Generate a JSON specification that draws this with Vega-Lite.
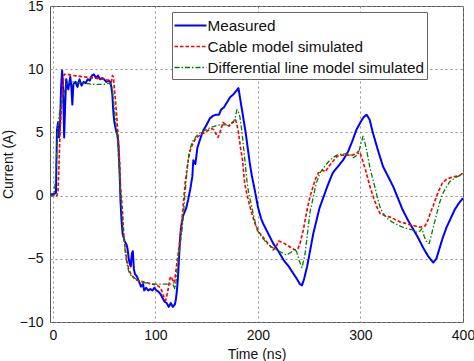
{
  "$schema": "https://vega.github.io/schema/vega-lite/v6.json",
  "width": 413,
  "height": 316,
  "autosize": {"type": "none"},
  "padding": {"left": 50, "top": 6, "right": 11, "bottom": 39},
  "background": "white",
  "config": {
    "view": {"stroke": "#555", "strokeWidth": 1},
    "font": "Liberation Sans",
    "axis": {
      "grid": true, "gridColor": "#888", "gridDash": [2, 3], "gridWidth": 1, "gridOpacity": 0.9,
      "domain": false, "ticks": false,
      "labelFont": "Liberation Sans", "labelFontSize": 14, "labelColor": "#111",
      "titleFont": "Liberation Sans", "titleFontSize": 14, "titleFontWeight": "normal", "titleColor": "#111"
    }
  },
  "data": {"values": [
    {"s":"Measured","t":-2.5,"i":0.1},{"s":"Measured","t":0,"i":0.1},{"s":"Measured","t":3,"i":0.2},{"s":"Measured","t":4,"i":5.2},{"s":"Measured","t":5,"i":5.8},{"s":"Measured","t":6,"i":4.6},{"s":"Measured","t":7,"i":5.6},{"s":"Measured","t":8,"i":8.6},{"s":"Measured","t":9,"i":9.9},{"s":"Measured","t":10,"i":8.6},{"s":"Measured","t":11,"i":4.6},{"s":"Measured","t":12,"i":7.2},{"s":"Measured","t":13,"i":9.2},{"s":"Measured","t":15,"i":8.4},{"s":"Measured","t":17,"i":9.4},{"s":"Measured","t":18,"i":8.6},{"s":"Measured","t":19,"i":7.2},{"s":"Measured","t":20,"i":8.8},{"s":"Measured","t":22,"i":9.0},{"s":"Measured","t":24,"i":8.6},{"s":"Measured","t":26,"i":9.2},{"s":"Measured","t":28,"i":8.7},{"s":"Measured","t":30,"i":9.0},{"s":"Measured","t":32,"i":8.9},{"s":"Measured","t":34,"i":9.2},{"s":"Measured","t":36,"i":9.1},{"s":"Measured","t":38,"i":9.5},{"s":"Measured","t":40,"i":9.6},{"s":"Measured","t":42,"i":9.3},{"s":"Measured","t":44,"i":9.5},{"s":"Measured","t":46,"i":9.2},{"s":"Measured","t":48,"i":9.3},{"s":"Measured","t":50,"i":9.2},{"s":"Measured","t":52,"i":9.0},{"s":"Measured","t":54,"i":9.1},{"s":"Measured","t":56,"i":9.0},{"s":"Measured","t":57,"i":8.6},{"s":"Measured","t":58,"i":8.0},{"s":"Measured","t":59,"i":6.6},{"s":"Measured","t":60,"i":5.8},{"s":"Measured","t":61,"i":5.4},{"s":"Measured","t":62,"i":5.0},{"s":"Measured","t":63,"i":4.8},{"s":"Measured","t":64,"i":4.0},{"s":"Measured","t":65,"i":2.0},{"s":"Measured","t":66,"i":-0.5},{"s":"Measured","t":67,"i":-2.0},{"s":"Measured","t":68,"i":-3.0},{"s":"Measured","t":70,"i":-3.6},{"s":"Measured","t":72,"i":-3.9},{"s":"Measured","t":73,"i":-4.3},{"s":"Measured","t":74,"i":-5.0},{"s":"Measured","t":75,"i":-5.4},{"s":"Measured","t":76,"i":-5.6},{"s":"Measured","t":77,"i":-4.6},{"s":"Measured","t":78,"i":-4.4},{"s":"Measured","t":79,"i":-5.8},{"s":"Measured","t":80,"i":-6.2},{"s":"Measured","t":82,"i":-6.4},{"s":"Measured","t":84,"i":-6.8},{"s":"Measured","t":86,"i":-7.2},{"s":"Measured","t":88,"i":-7.0},{"s":"Measured","t":89,"i":-7.5},{"s":"Measured","t":91,"i":-7.3},{"s":"Measured","t":93,"i":-7.5},{"s":"Measured","t":95,"i":-7.4},{"s":"Measured","t":97,"i":-7.5},{"s":"Measured","t":99,"i":-7.3},{"s":"Measured","t":101,"i":-7.5},{"s":"Measured","t":103,"i":-7.6},{"s":"Measured","t":105,"i":-7.8},{"s":"Measured","t":107,"i":-8.1},{"s":"Measured","t":109,"i":-8.4},{"s":"Measured","t":111,"i":-8.5},{"s":"Measured","t":113,"i":-8.8},{"s":"Measured","t":115,"i":-8.5},{"s":"Measured","t":117,"i":-8.8},{"s":"Measured","t":119,"i":-8.6},{"s":"Measured","t":120,"i":-8.2},{"s":"Measured","t":121,"i":-7.5},{"s":"Measured","t":122,"i":-6.5},{"s":"Measured","t":123,"i":-5.0},{"s":"Measured","t":124,"i":-3.5},{"s":"Measured","t":125,"i":-2.5},{"s":"Measured","t":127,"i":-1.6},{"s":"Measured","t":130,"i":-1.0},{"s":"Measured","t":132,"i":-0.3},{"s":"Measured","t":134,"i":0.5},{"s":"Measured","t":136,"i":1.5},{"s":"Measured","t":137,"i":2.8},{"s":"Measured","t":139,"i":2.5},{"s":"Measured","t":141,"i":3.8},{"s":"Measured","t":143,"i":4.3},{"s":"Measured","t":145,"i":4.8},{"s":"Measured","t":147,"i":5.2},{"s":"Measured","t":150,"i":5.6},{"s":"Measured","t":153,"i":6.1},{"s":"Measured","t":156,"i":6.3},{"s":"Measured","t":159,"i":6.4},{"s":"Measured","t":162,"i":6.4},{"s":"Measured","t":164,"i":6.8},{"s":"Measured","t":167,"i":7.0},{"s":"Measured","t":170,"i":7.4},{"s":"Measured","t":173,"i":7.8},{"s":"Measured","t":176,"i":8.0},{"s":"Measured","t":178,"i":8.2},{"s":"Measured","t":180,"i":8.4},{"s":"Measured","t":181,"i":8.5},{"s":"Measured","t":182,"i":8.0},{"s":"Measured","t":184,"i":7.0},{"s":"Measured","t":186,"i":6.0},{"s":"Measured","t":188,"i":5.0},{"s":"Measured","t":190,"i":3.8},{"s":"Measured","t":192,"i":2.6},{"s":"Measured","t":194,"i":1.6},{"s":"Measured","t":197,"i":0.4},{"s":"Measured","t":200,"i":-0.9},{"s":"Measured","t":203,"i":-1.8},{"s":"Measured","t":205,"i":-2.2},{"s":"Measured","t":210,"i":-3.0},{"s":"Measured","t":215,"i":-3.8},{"s":"Measured","t":220,"i":-4.4},{"s":"Measured","t":225,"i":-5.1},{"s":"Measured","t":230,"i":-5.6},{"s":"Measured","t":234,"i":-6.1},{"s":"Measured","t":238,"i":-6.6},{"s":"Measured","t":241,"i":-7.0},{"s":"Measured","t":243,"i":-7.1},{"s":"Measured","t":245,"i":-6.6},{"s":"Measured","t":248,"i":-5.6},{"s":"Measured","t":251,"i":-4.3},{"s":"Measured","t":254,"i":-3.0},{"s":"Measured","t":257,"i":-2.0},{"s":"Measured","t":260,"i":-1.0},{"s":"Measured","t":264,"i":-0.1},{"s":"Measured","t":268,"i":0.8},{"s":"Measured","t":273,"i":1.8},{"s":"Measured","t":278,"i":2.3},{"s":"Measured","t":283,"i":2.8},{"s":"Measured","t":288,"i":3.5},{"s":"Measured","t":292,"i":4.3},{"s":"Measured","t":296,"i":5.2},{"s":"Measured","t":300,"i":5.8},{"s":"Measured","t":303,"i":6.2},{"s":"Measured","t":306,"i":6.4},{"s":"Measured","t":309,"i":6.0},{"s":"Measured","t":312,"i":5.0},{"s":"Measured","t":317,"i":3.6},{"s":"Measured","t":322,"i":2.3},{"s":"Measured","t":327,"i":1.5},{"s":"Measured","t":332,"i":0.7},{"s":"Measured","t":337,"i":-0.3},{"s":"Measured","t":341,"i":-1.1},{"s":"Measured","t":346,"i":-1.9},{"s":"Measured","t":351,"i":-2.6},{"s":"Measured","t":356,"i":-3.3},{"s":"Measured","t":361,"i":-4.1},{"s":"Measured","t":366,"i":-4.8},{"s":"Measured","t":371,"i":-5.3},{"s":"Measured","t":374,"i":-5.0},{"s":"Measured","t":377,"i":-4.2},{"s":"Measured","t":380,"i":-3.4},{"s":"Measured","t":384,"i":-2.5},{"s":"Measured","t":388,"i":-1.8},{"s":"Measured","t":392,"i":-1.1},{"s":"Measured","t":396,"i":-0.6},{"s":"Measured","t":400,"i":-0.2},

    {"s":"Cable model simulated","t":-2.5,"i":0},{"s":"Cable model simulated","t":4,"i":0},{"s":"Cable model simulated","t":5,"i":0.3},{"s":"Cable model simulated","t":6,"i":2.5},{"s":"Cable model simulated","t":7,"i":5.0},{"s":"Cable model simulated","t":8,"i":6.5},{"s":"Cable model simulated","t":9,"i":7.6},{"s":"Cable model simulated","t":10,"i":9.0},{"s":"Cable model simulated","t":11,"i":9.6},{"s":"Cable model simulated","t":14,"i":9.6},{"s":"Cable model simulated","t":20,"i":9.5},{"s":"Cable model simulated","t":30,"i":9.4},{"s":"Cable model simulated","t":40,"i":9.3},{"s":"Cable model simulated","t":50,"i":9.2},{"s":"Cable model simulated","t":55,"i":9.1},{"s":"Cable model simulated","t":57,"i":9.0},{"s":"Cable model simulated","t":58,"i":9.5},{"s":"Cable model simulated","t":59,"i":9.4},{"s":"Cable model simulated","t":60,"i":8.4},{"s":"Cable model simulated","t":61,"i":7.6},{"s":"Cable model simulated","t":63,"i":5.5},{"s":"Cable model simulated","t":65,"i":2.8},{"s":"Cable model simulated","t":66,"i":0.7},{"s":"Cable model simulated","t":67,"i":-0.3},{"s":"Cable model simulated","t":68,"i":-1.4},{"s":"Cable model simulated","t":69,"i":-3.0},{"s":"Cable model simulated","t":70,"i":-3.8},{"s":"Cable model simulated","t":72,"i":-5.1},{"s":"Cable model simulated","t":74,"i":-5.8},{"s":"Cable model simulated","t":76,"i":-6.2},{"s":"Cable model simulated","t":79,"i":-6.5},{"s":"Cable model simulated","t":82,"i":-6.7},{"s":"Cable model simulated","t":87,"i":-6.8},{"s":"Cable model simulated","t":92,"i":-6.9},{"s":"Cable model simulated","t":97,"i":-7.0},{"s":"Cable model simulated","t":102,"i":-7.1},{"s":"Cable model simulated","t":105,"i":-7.3},{"s":"Cable model simulated","t":107,"i":-7.7},{"s":"Cable model simulated","t":109,"i":-8.2},{"s":"Cable model simulated","t":110,"i":-8.3},{"s":"Cable model simulated","t":112,"i":-7.6},{"s":"Cable model simulated","t":114,"i":-6.6},{"s":"Cable model simulated","t":115,"i":-6.4},{"s":"Cable model simulated","t":117,"i":-6.7},{"s":"Cable model simulated","t":118,"i":-6.9},{"s":"Cable model simulated","t":119,"i":-6.6},{"s":"Cable model simulated","t":121,"i":-5.3},{"s":"Cable model simulated","t":124,"i":-3.5},{"s":"Cable model simulated","t":126,"i":-1.8},{"s":"Cable model simulated","t":127,"i":-0.9},{"s":"Cable model simulated","t":129,"i":1.0},{"s":"Cable model simulated","t":130,"i":1.6},{"s":"Cable model simulated","t":132,"i":2.8},{"s":"Cable model simulated","t":134,"i":3.6},{"s":"Cable model simulated","t":137,"i":4.2},{"s":"Cable model simulated","t":140,"i":4.6},{"s":"Cable model simulated","t":144,"i":4.8},{"s":"Cable model simulated","t":150,"i":5.1},{"s":"Cable model simulated","t":155,"i":5.3},{"s":"Cable model simulated","t":157,"i":5.2},{"s":"Cable model simulated","t":159,"i":4.9},{"s":"Cable model simulated","t":161,"i":4.6},{"s":"Cable model simulated","t":163,"i":5.0},{"s":"Cable model simulated","t":166,"i":5.8},{"s":"Cable model simulated","t":169,"i":5.6},{"s":"Cable model simulated","t":172,"i":5.5},{"s":"Cable model simulated","t":175,"i":5.8},{"s":"Cable model simulated","t":178,"i":6.0},{"s":"Cable model simulated","t":179,"i":5.8},{"s":"Cable model simulated","t":181,"i":5.0},{"s":"Cable model simulated","t":183,"i":3.8},{"s":"Cable model simulated","t":185,"i":2.8},{"s":"Cable model simulated","t":187,"i":1.0},{"s":"Cable model simulated","t":189,"i":0.2},{"s":"Cable model simulated","t":191,"i":-0.5},{"s":"Cable model simulated","t":194,"i":-1.4},{"s":"Cable model simulated","t":197,"i":-2.2},{"s":"Cable model simulated","t":201,"i":-2.9},{"s":"Cable model simulated","t":205,"i":-3.3},{"s":"Cable model simulated","t":210,"i":-3.8},{"s":"Cable model simulated","t":215,"i":-4.3},{"s":"Cable model simulated","t":218,"i":-4.0},{"s":"Cable model simulated","t":220,"i":-3.6},{"s":"Cable model simulated","t":224,"i":-3.7},{"s":"Cable model simulated","t":228,"i":-3.9},{"s":"Cable model simulated","t":232,"i":-4.1},{"s":"Cable model simulated","t":236,"i":-4.3},{"s":"Cable model simulated","t":239,"i":-4.2},{"s":"Cable model simulated","t":241,"i":-3.8},{"s":"Cable model simulated","t":244,"i":-2.8},{"s":"Cable model simulated","t":248,"i":-1.1},{"s":"Cable model simulated","t":251,"i":0.0},{"s":"Cable model simulated","t":253,"i":0.5},{"s":"Cable model simulated","t":256,"i":1.3},{"s":"Cable model simulated","t":259,"i":1.8},{"s":"Cable model simulated","t":263,"i":2.0},{"s":"Cable model simulated","t":266,"i":1.9},{"s":"Cable model simulated","t":269,"i":2.3},{"s":"Cable model simulated","t":273,"i":2.7},{"s":"Cable model simulated","t":277,"i":3.1},{"s":"Cable model simulated","t":282,"i":3.2},{"s":"Cable model simulated","t":287,"i":3.2},{"s":"Cable model simulated","t":292,"i":3.2},{"s":"Cable model simulated","t":296,"i":3.3},{"s":"Cable model simulated","t":298,"i":3.5},{"s":"Cable model simulated","t":300,"i":3.3},{"s":"Cable model simulated","t":302,"i":2.8},{"s":"Cable model simulated","t":305,"i":2.0},{"s":"Cable model simulated","t":308,"i":1.1},{"s":"Cable model simulated","t":310,"i":0.5},{"s":"Cable model simulated","t":313,"i":-0.2},{"s":"Cable model simulated","t":316,"i":-0.9},{"s":"Cable model simulated","t":319,"i":-1.4},{"s":"Cable model simulated","t":324,"i":-1.6},{"s":"Cable model simulated","t":329,"i":-1.7},{"s":"Cable model simulated","t":334,"i":-1.9},{"s":"Cable model simulated","t":339,"i":-2.1},{"s":"Cable model simulated","t":344,"i":-2.2},{"s":"Cable model simulated","t":348,"i":-2.3},{"s":"Cable model simulated","t":353,"i":-2.4},{"s":"Cable model simulated","t":358,"i":-2.5},{"s":"Cable model simulated","t":363,"i":-2.4},{"s":"Cable model simulated","t":366,"i":-1.9},{"s":"Cable model simulated","t":368,"i":-1.4},{"s":"Cable model simulated","t":371,"i":-0.8},{"s":"Cable model simulated","t":374,"i":-0.1},{"s":"Cable model simulated","t":377,"i":0.5},{"s":"Cable model simulated","t":380,"i":1.0},{"s":"Cable model simulated","t":384,"i":1.3},{"s":"Cable model simulated","t":387,"i":1.4},{"s":"Cable model simulated","t":392,"i":1.5},{"s":"Cable model simulated","t":397,"i":1.6},{"s":"Cable model simulated","t":400,"i":1.8},

    {"s":"Differential line model simulated","t":-2.5,"i":0},{"s":"Differential line model simulated","t":1,"i":0},{"s":"Differential line model simulated","t":2,"i":0.8},{"s":"Differential line model simulated","t":3,"i":2.0},{"s":"Differential line model simulated","t":4,"i":4.0},{"s":"Differential line model simulated","t":5,"i":5.5},{"s":"Differential line model simulated","t":6,"i":6.3},{"s":"Differential line model simulated","t":8,"i":7.2},{"s":"Differential line model simulated","t":10,"i":7.9},{"s":"Differential line model simulated","t":12,"i":8.5},{"s":"Differential line model simulated","t":14,"i":8.9},{"s":"Differential line model simulated","t":20,"i":9.0},{"s":"Differential line model simulated","t":30,"i":8.9},{"s":"Differential line model simulated","t":40,"i":8.8},{"s":"Differential line model simulated","t":50,"i":8.8},{"s":"Differential line model simulated","t":55,"i":8.9},{"s":"Differential line model simulated","t":57,"i":8.7},{"s":"Differential line model simulated","t":58,"i":8.4},{"s":"Differential line model simulated","t":59,"i":7.6},{"s":"Differential line model simulated","t":61,"i":6.0},{"s":"Differential line model simulated","t":63,"i":4.4},{"s":"Differential line model simulated","t":64.5,"i":2.3},{"s":"Differential line model simulated","t":66,"i":0.2},{"s":"Differential line model simulated","t":67,"i":-1.0},{"s":"Differential line model simulated","t":68,"i":-2.0},{"s":"Differential line model simulated","t":70,"i":-4.0},{"s":"Differential line model simulated","t":72,"i":-5.3},{"s":"Differential line model simulated","t":74,"i":-6.0},{"s":"Differential line model simulated","t":77,"i":-6.4},{"s":"Differential line model simulated","t":81,"i":-6.6},{"s":"Differential line model simulated","t":85,"i":-6.8},{"s":"Differential line model simulated","t":90,"i":-6.9},{"s":"Differential line model simulated","t":95,"i":-7.0},{"s":"Differential line model simulated","t":105,"i":-7.0},{"s":"Differential line model simulated","t":117,"i":-7.0},{"s":"Differential line model simulated","t":119,"i":-7.4},{"s":"Differential line model simulated","t":120,"i":-6.9},{"s":"Differential line model simulated","t":122,"i":-5.3},{"s":"Differential line model simulated","t":124,"i":-4.0},{"s":"Differential line model simulated","t":126,"i":-2.7},{"s":"Differential line model simulated","t":128,"i":-0.8},{"s":"Differential line model simulated","t":129.5,"i":0.7},{"s":"Differential line model simulated","t":131,"i":2.2},{"s":"Differential line model simulated","t":133,"i":3.4},{"s":"Differential line model simulated","t":135,"i":4.0},{"s":"Differential line model simulated","t":137,"i":4.4},{"s":"Differential line model simulated","t":140,"i":4.7},{"s":"Differential line model simulated","t":144,"i":5.0},{"s":"Differential line model simulated","t":149,"i":5.2},{"s":"Differential line model simulated","t":154,"i":5.4},{"s":"Differential line model simulated","t":158,"i":5.5},{"s":"Differential line model simulated","t":163,"i":5.6},{"s":"Differential line model simulated","t":173,"i":5.6},{"s":"Differential line model simulated","t":176,"i":5.8},{"s":"Differential line model simulated","t":178,"i":6.2},{"s":"Differential line model simulated","t":179.5,"i":6.8},{"s":"Differential line model simulated","t":181,"i":6.6},{"s":"Differential line model simulated","t":182.5,"i":6.2},{"s":"Differential line model simulated","t":184.5,"i":5.0},{"s":"Differential line model simulated","t":186,"i":3.8},{"s":"Differential line model simulated","t":187.5,"i":2.6},{"s":"Differential line model simulated","t":189.5,"i":1.0},{"s":"Differential line model simulated","t":191,"i":0.2},{"s":"Differential line model simulated","t":194.5,"i":-1.1},{"s":"Differential line model simulated","t":199,"i":-2.7},{"s":"Differential line model simulated","t":204,"i":-3.3},{"s":"Differential line model simulated","t":209,"i":-3.8},{"s":"Differential line model simulated","t":214,"i":-4.1},{"s":"Differential line model simulated","t":218.5,"i":-4.3},{"s":"Differential line model simulated","t":223,"i":-4.5},{"s":"Differential line model simulated","t":228,"i":-4.7},{"s":"Differential line model simulated","t":232,"i":-4.5},{"s":"Differential line model simulated","t":236,"i":-4.2},{"s":"Differential line model simulated","t":238,"i":-4.5},{"s":"Differential line model simulated","t":240,"i":-5.1},{"s":"Differential line model simulated","t":243,"i":-5.7},{"s":"Differential line model simulated","t":246,"i":-4.6},{"s":"Differential line model simulated","t":249,"i":-2.5},{"s":"Differential line model simulated","t":251,"i":-1.2},{"s":"Differential line model simulated","t":254,"i":-0.1},{"s":"Differential line model simulated","t":257,"i":1.0},{"s":"Differential line model simulated","t":260.5,"i":1.8},{"s":"Differential line model simulated","t":265,"i":2.3},{"s":"Differential line model simulated","t":269,"i":2.7},{"s":"Differential line model simulated","t":273,"i":3.0},{"s":"Differential line model simulated","t":277,"i":3.2},{"s":"Differential line model simulated","t":282,"i":3.3},{"s":"Differential line model simulated","t":287,"i":3.3},{"s":"Differential line model simulated","t":291,"i":3.2},{"s":"Differential line model simulated","t":293,"i":3.0},{"s":"Differential line model simulated","t":295,"i":3.1},{"s":"Differential line model simulated","t":298,"i":3.3},{"s":"Differential line model simulated","t":300,"i":4.0},{"s":"Differential line model simulated","t":302.5,"i":4.7},{"s":"Differential line model simulated","t":304,"i":4.3},{"s":"Differential line model simulated","t":306,"i":3.6},{"s":"Differential line model simulated","t":309,"i":2.3},{"s":"Differential line model simulated","t":312,"i":1.3},{"s":"Differential line model simulated","t":314,"i":0.7},{"s":"Differential line model simulated","t":317,"i":-0.3},{"s":"Differential line model simulated","t":319,"i":-0.9},{"s":"Differential line model simulated","t":322,"i":-1.4},{"s":"Differential line model simulated","t":326,"i":-1.8},{"s":"Differential line model simulated","t":331,"i":-2.1},{"s":"Differential line model simulated","t":336,"i":-2.3},{"s":"Differential line model simulated","t":341,"i":-2.5},{"s":"Differential line model simulated","t":345,"i":-2.6},{"s":"Differential line model simulated","t":350,"i":-2.7},{"s":"Differential line model simulated","t":355,"i":-2.9},{"s":"Differential line model simulated","t":358,"i":-2.8},{"s":"Differential line model simulated","t":360,"i":-2.6},{"s":"Differential line model simulated","t":362,"i":-3.2},{"s":"Differential line model simulated","t":364,"i":-3.6},{"s":"Differential line model simulated","t":367,"i":-3.8},{"s":"Differential line model simulated","t":369.5,"i":-3.0},{"s":"Differential line model simulated","t":372,"i":-2.2},{"s":"Differential line model simulated","t":374.5,"i":-1.4},{"s":"Differential line model simulated","t":377,"i":-0.6},{"s":"Differential line model simulated","t":380.5,"i":0.2},{"s":"Differential line model simulated","t":384,"i":0.7},{"s":"Differential line model simulated","t":387,"i":1.1},{"s":"Differential line model simulated","t":392,"i":1.4},{"s":"Differential line model simulated","t":397,"i":1.6},{"s":"Differential line model simulated","t":400,"i":1.8}
  ]},
  "mark": {"type": "line", "clip": true, "strokeJoin": "round"},
  "encoding": {
    "x": {"field": "t", "type": "quantitative", "title": "Time (ns)",
      "scale": {"domain": [-2.8, 400], "nice": false, "zero": false},
      "axis": {"values": [0, 100, 200, 300, 400], "labelPadding": 6, "titlePadding": 5, "labelFlush": false}},
    "y": {"field": "i", "type": "quantitative", "title": "Current (A)",
      "scale": {"domain": [-10, 15], "nice": false},
      "axis": {"values": [-10, -5, 0, 5, 10, 15], "labelPadding": 7, "titlePadding": 4}},
    "color": {"field": "s", "type": "nominal", "title": null,
      "scale": {"domain": ["Measured", "Cable model simulated", "Differential line model simulated"], "range": ["#0000ff", "#ff0000", "#008000"]},
      "legend": {"orient": "none", "legendX": 122, "legendY": 6, "strokeColor": "#666", "fillColor": "white", "padding": 2.5,
        "symbolType": "M-1.6,0L1.6,0", "symbolSize": 400, "symbolStrokeWidth": 1.6, "symbolOffset": 5,
        "labelFontSize": 15.3, "labelFont": "Liberation Sans", "labelColor": "#111", "rowPadding": 1, "labelOffset": 6, "labelLimit": 300}},
    "strokeDash": {"field": "s", "type": "nominal", "title": null,
      "scale": {"domain": ["Measured", "Cable model simulated", "Differential line model simulated"], "range": [[1, 0], [3.5, 2], [5, 2, 1.5, 2]]},
      "legend": {"orient": "none", "legendX": 122, "legendY": 6, "strokeColor": "#666", "fillColor": "white", "padding": 2.5,
        "symbolType": "M-1.6,0L1.6,0", "symbolSize": 400, "symbolStrokeWidth": 1.6, "symbolOffset": 5,
        "labelFontSize": 15.3, "labelFont": "Liberation Sans", "labelColor": "#111", "rowPadding": 1, "labelOffset": 6, "labelLimit": 300}},
    "strokeWidth": {"field": "s", "type": "nominal", "legend": null,
      "scale": {"domain": ["Measured", "Cable model simulated", "Differential line model simulated"], "range": [2, 1.3, 1.3]}}
  }
}
